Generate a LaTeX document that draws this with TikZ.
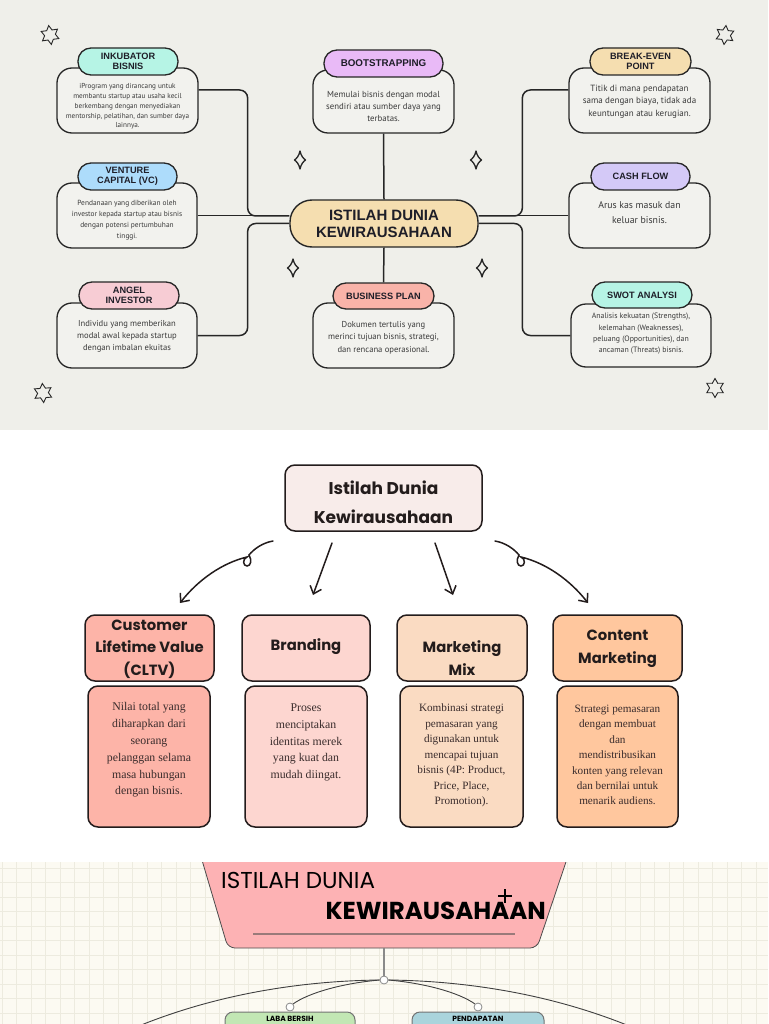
\documentclass[tikz,border=0pt]{standalone}
\usepackage{fontspec}
\usetikzlibrary{shapes.geometric,arrows.meta,calc}
\newfontfamily\ptsans{PT Sans}
\newfontfamily\lsans{Liberation Sans}
\newfontfamily\hand{Poppins}
\newfontfamily\serifb{Liberation Serif}
\newfontfamily\geo{Poppins}
\definecolor{topbg}{HTML}{EFEFEA}
\definecolor{boxfill}{HTML}{F2F2EE}
\definecolor{linec}{HTML}{262626}
\definecolor{bodyc}{HTML}{3A3A3A}
\definecolor{labelc}{HTML}{1E1E28}
\definecolor{mint}{HTML}{B6F4E5}
\definecolor{lilac}{HTML}{E9BAF7}
\definecolor{wheat}{HTML}{F5DEB0}
\definecolor{skyb}{HTML}{ADDCFB}
\definecolor{pinka}{HTML}{F7CCD4}
\definecolor{lavc}{HTML}{D4C9F7}
\definecolor{salm}{HTML}{F9B3A9}
\definecolor{handc}{HTML}{231C1C}
\definecolor{titlef}{HTML}{F8ECEA}
\definecolor{cltvf}{HTML}{FDB4A8}
\definecolor{brandf}{HTML}{FDD6D0}
\definecolor{mmf}{HTML}{FADBC2}
\definecolor{cmf}{HTML}{FFC79E}
\definecolor{serifc}{HTML}{3A2C2C}
\definecolor{btmbg}{HTML}{FCFAF2}
\definecolor{gridc}{HTML}{EDEBDF}
\definecolor{trapf}{HTML}{FDB2B4}
\definecolor{greenf}{HTML}{C2E7B4}
\definecolor{bluef}{HTML}{AAD4DC}
\definecolor{grayl}{HTML}{8A8A8A}
\definecolor{ulinec}{HTML}{9A7A7A}
\newcommand\mysparkle[2]{\draw[line width=1.3pt, draw=linec, line join=round] (#1,#2) ++(0,-9) .. controls +(1,5) and +(-2,-1.5) .. ++(5.5,9) .. controls +(-2,1.5) and +(1,-5) .. ++(-5.5,9) .. controls +(-1,-5) and +(2,1.5) .. ++(-5.5,-9) .. controls +(2,-1.5) and +(-1,5) .. ++(5.5,-9) -- cycle;}
\begin{document}
\begin{tikzpicture}[x=1pt,y=-1pt,
  descbox/.style={draw=linec, line width=1.3pt, fill=boxfill, rounded corners=15pt, inner sep=0pt},
  pill/.style={draw=linec, line width=1.3pt, rounded corners=13pt, inner sep=0pt, minimum height=27pt, align=center, text=labelc, font=\lsans\bfseries\fontsize{9.2}{10.5}\selectfont},
  bodytxt/.style={align=center, text=bodyc, inner sep=0pt},
  conn/.style={draw=linec, line width=1.5pt, rounded corners=8pt},
  starn/.style={star, star points=6, star point ratio=1.75, draw=linec, line width=0.9pt, minimum size=19pt, inner sep=0pt},
  hbox/.style={draw=handc, line width=1.5pt, rounded corners=10pt, inner sep=0pt},
  htitle/.style={align=center, text=handc, inner sep=0pt, font=\hand\bfseries\fontsize{14.8}{22.5}\selectfont},
  htxt/.style={align=center, text=serifc, inner sep=0pt},
  harrow/.style={draw=handc, line width=1.5pt, line cap=round, -{Straight Barb[length=7pt,width=12pt]}},
  dot/.style={circle, draw=grayl, fill=white, line width=0.8pt, minimum size=8pt, inner sep=0pt},
  gcurve/.style={draw=black!75, line width=0.9pt},
  bbox/.style={draw=black!55, line width=1pt, rounded corners=8pt, inner sep=0pt}
]
\useasboundingbox (0,0) rectangle (768,1024);
% ===== backgrounds =====
\fill[topbg] (0,0) rectangle (768,430);
\fill[white] (0,430) rectangle (768,862);
\begin{scope}
\clip (0,862) rectangle (768,1024);
\fill[btmbg] (0,862) rectangle (768,1024);
\foreach \gx in {2,16.5,...,768} \draw[gridc, line width=0.6pt] (\gx,862) -- (\gx,1024);
\foreach \gy in {868,882.5,...,1024} \draw[gridc, line width=0.6pt] (0,\gy) -- (768,\gy);
\end{scope}

% ===== TOP PANEL =====
\node[descbox, minimum width=141pt, minimum height=65pt] (inkbox) at (127.5,100.5) {};
\node[pill, fill=mint, minimum width=100pt] (inkpill) at (128,61.5) {INKUBATOR\\BISNIS};
\node[bodytxt, font=\ptsans\fontsize{7.2}{9.8}\selectfont] (inktxt) at (127.5,106.5) {iProgram yang dirancang untuk\\membantu startup atau usaha kecil\\berkembang dengan menyediakan\\mentorship, pelatihan, dan sumber daya\\lainnya.};

\node[descbox, minimum width=140pt, minimum height=65pt] (vcbox) at (127,215.5) {};
\node[pill, fill=skyb, minimum width=99pt] (vcpill) at (127.5,176.5) {VENTURE\\CAPITAL (VC)};
\node[bodytxt, font=\ptsans\fontsize{7.4}{11}\selectfont] (vctxt) at (127,220.5) {Pendanaan yang diberikan oleh\\investor kepada startup atau bisnis\\dengan potensi pertumbuhan\\tinggi.};

\node[descbox, minimum width=140pt, minimum height=65pt] (angbox) at (127,335.5) {};
\node[pill, fill=pinka, minimum width=100pt] (angpill) at (129,295.5) {ANGEL\\INVESTOR};
\node[bodytxt, font=\ptsans\fontsize{8.6}{12}\selectfont] (angtxt) at (127,336) {Individu yang memberikan\\modal awal kepada startup\\dengan imbalan ekuitas};

\node[descbox, minimum width=141pt, minimum height=63pt] (bootbox) at (383.5,101.5) {};
\node[pill, fill=lilac, minimum width=119pt, font=\lsans\bfseries\fontsize{9.8}{11}\selectfont] (bootpill) at (383.5,63.5) {BOOTSTRAPPING};
\node[bodytxt, font=\ptsans\fontsize{8.8}{12}\selectfont] (boottxt) at (383.5,106) {Memulai bisnis dengan modal\\sendiri atau sumber daya yang\\terbatas.};

\node[draw=linec, line width=1.4pt, fill=wheat, rounded corners=22pt, minimum width=188pt, minimum height=47pt, inner sep=0pt, align=center, text=labelc, font=\lsans\bfseries\fontsize{15}{17}\selectfont] (central) at (384,223.5) {ISTILAH DUNIA\\KEWIRAUSAHAAN};

\node[descbox, minimum width=141pt, minimum height=65pt] (bpbox) at (383.5,335.5) {};
\node[pill, fill=salm, minimum width=101pt, minimum height=26pt] (bppill) at (383.5,296) {BUSINESS PLAN};
\node[bodytxt, font=\ptsans\fontsize{8.6}{12.5}\selectfont] (bptxt) at (383.5,337.5) {Dokumen tertulis yang\\merinci tujuan bisnis, strategi,\\dan rencana operasional.};

\node[descbox, minimum width=141pt, minimum height=65pt] (bebox) at (639.5,100.5) {};
\node[pill, fill=wheat, minimum width=101pt] (bepill) at (640.5,61.5) {BREAK-EVEN\\POINT};
\node[bodytxt, font=\ptsans\fontsize{9}{12.5}\selectfont] (betxt) at (639.5,101.5) {Titik di mana pendapatan\\sama dengan biaya, tidak ada\\keuntungan atau kerugian.};

\node[descbox, minimum width=141pt, minimum height=65pt] (cfbox) at (639.5,215.5) {};
\node[pill, fill=lavc, minimum width=99pt] (cfpill) at (640.5,176.5) {CASH FLOW};
\node[bodytxt, font=\ptsans\fontsize{9.8}{15}\selectfont] (cftxt) at (639.5,212.5) {Arus kas masuk dan\\keluar bisnis.};

\node[descbox, minimum width=140pt, minimum height=63pt] (swbox) at (641,335.5) {};
\node[pill, fill=mint, minimum width=100pt, minimum height=26pt] (swpill) at (642,295) {SWOT ANALYSI};
\node[bodytxt, font=\ptsans\fontsize{7.8}{11.3}\selectfont] (swtxt) at (641,334) {Analisis kekuatan (Strengths),\\kelemahan (Weaknesses),\\peluang (Opportunities), dan\\ancaman (Threats) bisnis.};

% connectors
\draw[conn] ([yshift=10.5pt]inkbox.east) -- ++(49,0) |- ([yshift=7.5pt]central.west);
\draw[conn] (vcbox.east) -- (vcbox.east -| central.west);
\draw[conn] (angbox.east) -- ++(50,0) |- (central.west);
\draw[conn] ([yshift=10.5pt]bebox.west) -- ++(-46,0) |- ([yshift=7.5pt]central.east);
\draw[conn] (cfbox.west) -- (cfbox.west -| central.east);
\draw[conn] (swbox.west) -- ++(-48,0) |- (central.east);
\draw[conn] (bootbox.south) -- (central.north);
\draw[conn] (central.south) -- (bppill.north);

% stars and sparkles
\node[starn, rotate=8] (st1) at (50,35) {};
\node[starn, rotate=-6] (st2) at (725,35) {};
\node[starn, rotate=4] (st3) at (43,393) {};
\node[starn, rotate=0] (st4) at (715,388) {};
\mysparkle{300}{160}
\mysparkle{476}{160}
\mysparkle{293}{268}
\mysparkle{482}{268}

% ===== MIDDLE PANEL =====
\node[hbox, fill=titlef, minimum width=197pt, minimum height=66pt] (title) at (383.5,498) {};
\node[htitle, font=\hand\bfseries\fontsize{17}{29}\selectfont] (titletxt) at (383.5,502.5) {Istilah Dunia\\Kewirausahaan};

\node[hbox, fill=cltvf, minimum width=129pt, minimum height=66pt] (cltvT) at (149.5,648) {};
\node[htitle] (cltvTt) at (149.5,649) {Customer\\Lifetime Value\\(CLTV)};
\node[hbox, fill=brandf, minimum width=128pt, minimum height=66pt] (brT) at (306,648) {};
\node[htitle] (brTt) at (306,647) {Branding};
\node[hbox, fill=mmf, minimum width=130pt, minimum height=66pt] (mmT) at (462,648) {};
\node[htitle] (mmTt) at (462,658) {Marketing\\Mix};
\node[hbox, fill=cmf, minimum width=129pt, minimum height=66pt] (cmT) at (617.5,648) {};
\node[htitle] (cmTt) at (617.5,649) {Content\\Marketing};

\node[hbox, fill=cltvf, minimum width=122pt, minimum height=141pt] (cltvD) at (149,756.5) {};
\node[htxt, font=\serifb\fontsize{11.8}{16.8}\selectfont] (cltvDt) at (149,750) {Nilai total yang\\diharapkan dari\\seorang\\pelanggan selama\\masa hubungan\\dengan bisnis.};
\node[hbox, fill=brandf, minimum width=122pt, minimum height=141pt] (brD) at (306,756.5) {};
\node[htxt, font=\serifb\fontsize{11.8}{16.8}\selectfont] (brDt) at (306,742.5) {Proses\\menciptakan\\identitas merek\\yang kuat dan\\mudah diingat.};
\node[hbox, fill=mmf, minimum width=123pt, minimum height=141pt] (mmD) at (461.5,756.5) {};
\node[htxt, font=\serifb\fontsize{11.2}{15.5}\selectfont] (mmDt) at (461.5,755.5) {Kombinasi strategi\\pemasaran yang\\digunakan untuk\\mencapai tujuan\\bisnis (4P: Product,\\Price, Place,\\Promotion).};
\node[hbox, fill=cmf, minimum width=121pt, minimum height=141pt] (cmD) at (617.5,756.5) {};
\node[htxt, font=\serifb\fontsize{11.2}{15.4}\selectfont] (cmDt) at (617.5,755) {Strategi pemasaran\\dengan membuat\\dan\\mendistribusikan\\konten yang relevan\\dan bernilai untuk\\menarik audiens.};

% arrows
\coordinate (a1s) at (273,541);
\coordinate (a1e) at (180,603);
\coordinate (a2s) at (332,543);
\coordinate (a2e) at (313,595);
\coordinate (a3s) at (435,543);
\coordinate (a3e) at (453,595);
\coordinate (a4s) at (495,541);
\coordinate (a4e) at (588,603);
\draw[harrow] (a1s) .. controls (262,543) and (254,549) .. (249,555) .. controls (252,560) and (251,566) .. (247,566) .. controls (243,566) and (242,559) .. (247,557) .. controls (222,563) and (198,580) .. (a1e);
\draw[harrow] (a2s) -- (a2e);
\draw[harrow] (a3s) -- (a3e);
\draw[harrow] (a4s) .. controls (506,543) and (514,549) .. (519,555) .. controls (516,560) and (517,566) .. (521,566) .. controls (525,566) and (526,559) .. (521,557) .. controls (546,563) and (570,580) .. (a4e);

% ===== BOTTOM PANEL =====
\begin{scope}
\clip (0,862) rectangle (768,1024);
\draw[draw=black!70, fill=trapf, line width=0.8pt, rounded corners=7pt] (199,850) -- (570,850) -- (537,948) -- (228,948) -- cycle;
\coordinate (trapbot) at (384,948);
\node[anchor=west, inner sep=0pt, text=black, font=\geo\fontsize{23}{23}\selectfont] (bt1) at (221,880) {ISTILAH DUNIA};
\node[anchor=east, inner sep=0pt, text=black, font=\geo\bfseries\fontsize{24.5}{24.5}\selectfont] (bt2) at (546,911) {KEWIRAUSAHAAN};
\draw[line width=2.6pt, black] (498,896) -- (512,896) (505,889) -- (505,903);
\draw[draw=ulinec, line width=1.4pt] (253,934) -- (515,934);
\node[bbox, fill=greenf, minimum width=130pt, minimum height=40pt] (laba) at (290,1032) {};
\node[bbox, fill=bluef, minimum width=132pt, minimum height=40pt] (pend) at (478,1032) {};
\node[inner sep=0pt, font=\geo\bfseries\fontsize{7.5}{7.5}\selectfont] (labat) at (290,1018.5) {LABA BERSIH};
\node[inner sep=0pt, font=\geo\bfseries\fontsize{7.5}{7.5}\selectfont] (pendt) at (478,1018.5) {PENDAPATAN};
\node[dot] (c0) at (384,980) {};
\node[dot] (cl) at (290,1007) {};
\node[dot] (cr) at (478,1007) {};
\draw[draw=grayl, line width=1.2pt] (trapbot) -- (c0.north);
\draw[gcurve] (c0.west) .. controls (345,983) and (310,992) .. (cl.north east);
\draw[gcurve] (c0.east) .. controls (423,983) and (458,992) .. (cr.north west);
\draw[gcurve] (c0.west) .. controls (290,981) and (200,998) .. (120,1034);
\draw[gcurve] (c0.east) .. controls (478,981) and (568,998) .. (648,1034);
\end{scope}
\end{tikzpicture}
\end{document}
